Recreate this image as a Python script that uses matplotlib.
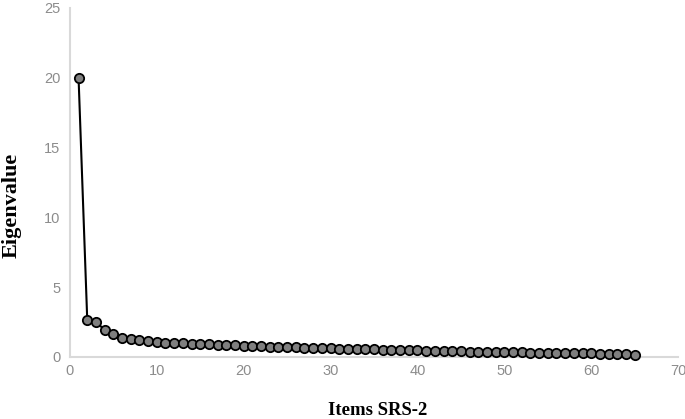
import numpy as np
import matplotlib
matplotlib.use("Agg")
import matplotlib.pyplot as plt

# scree plot data
items = list(range(1, 66))
eigenvalues = [
    20.0, 2.65, 2.5, 1.95, 1.62, 1.35, 1.28, 1.24, 1.12, 1.08,
    1.03, 1.01, 0.98, 0.96, 0.93, 0.91, 0.88, 0.85, 0.83, 0.81,
    0.79, 0.77, 0.75, 0.73, 0.71, 0.69, 0.67, 0.65, 0.63, 0.62,
    0.60, 0.58, 0.57, 0.55, 0.54, 0.52, 0.51, 0.49, 0.48, 0.47,
    0.45, 0.44, 0.43, 0.42, 0.40, 0.39, 0.38, 0.37, 0.36, 0.35,
    0.34, 0.33, 0.32, 0.31, 0.30, 0.29, 0.28, 0.27, 0.26, 0.25,
    0.24, 0.23, 0.21, 0.19, 0.14,
]
xticks = [0, 10, 20, 30, 40, 50, 60, 70]
yticks = [0, 5, 10, 15, 20, 25]

fig = plt.figure(figsize=(6.85, 4.19), dpi=100)
ax = fig.add_axes([0.102, 0.148, 0.888, 0.833])

ax.plot(items, eigenvalues, color='black', linewidth=1.5, marker='o',
        markersize=6.7, markerfacecolor='#7f7f7f', markeredgecolor='black',
        markeredgewidth=1.3, clip_on=False, zorder=3)

ax.set_xlim(0, 70)
ax.set_ylim(0, 25)
ax.set_xticks(xticks)
ax.set_yticks(yticks)
ax.tick_params(length=0, labelsize=10.5, labelcolor='#8c8c8c')
ax.tick_params(axis='x', pad=5)
ax.tick_params(axis='y', pad=7)
for lab in ax.get_xticklabels() + ax.get_yticklabels():
    lab.set_family('Liberation Sans')

for s in ['top', 'right']:
    ax.spines[s].set_visible(False)
for s in ['left', 'bottom']:
    ax.spines[s].set_color('#d9d9d9')
    ax.spines[s].set_linewidth(1.5)

fig.text(0.552, 0.021, 'Items SRS-2', ha='center', va='center',
         family='Liberation Serif', fontweight='bold', fontsize=13.5)
fig.text(0.017, 0.51, 'Eigenvalue', ha='center', va='center', rotation=90,
         family='Liberation Serif', fontweight='bold', fontsize=16)

fig.savefig('out.png', dpi=100)
